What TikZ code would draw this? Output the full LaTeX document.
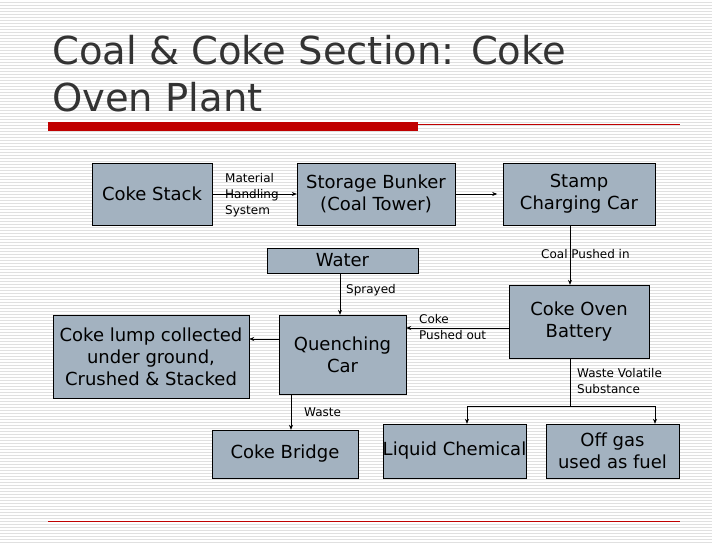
\documentclass[tikz,border=0pt]{standalone}
\usepackage{fontspec}
\setmainfont{DejaVu Sans}
\usetikzlibrary{positioning,arrows.meta,calc}
\definecolor{boxfill}{HTML}{A3B2C0}
\definecolor{titlered}{HTML}{C00000}
\begin{document}
\begin{tikzpicture}[x=1pt,y=-1pt,
    box/.style={draw=black,fill=boxfill,inner sep=0pt,align=center,font=\fontsize{18}{22}\selectfont},
    lbl/.style={font=\fontsize{12}{16}\selectfont,align=left,inner sep=1pt},
    arr/.style={-{Stealth[length=5pt,width=4pt]},line width=0.6pt}]
        % Background
        \fill[white] (0,0) rectangle (728,546);
        \useasboundingbox (0,0) rectangle (728,546);
        \foreach \y in {2,5,...,544} \draw[black!12,line width=0.5pt] (0,\y) -- (712,\y);
        \fill[white] (712,0) rectangle (728,546);
        \node[anchor=west,align=left,text=black!80,font=\fontsize{38.5}{47}\selectfont,inner sep=0pt] (title) at (52,74) {Coal \& Coke Section: Coke\\Oven Plant};
        \fill[titlered] (48,122) rectangle (418,131);
        \draw[titlered,line width=0.6pt] (418,124) -- (680,124);
        \draw[titlered,line width=0.6pt] (48,521) -- (680,521);

        % Nodes
        \node[box,minimum width=120,minimum height=62] (cokestack) at (152,194) {Coke Stack};
        \node[box,minimum width=158,minimum height=62] (bunker) at (376,194) {Storage Bunker\\(Coal Tower)};
        \node[box,minimum width=152,minimum height=62] (stamp) at (579,194) {Stamp\\Charging Car};
        \node[box,minimum width=151,minimum height=25] (water) at (342.5,260.5) {Water};
        \node[box,minimum width=140,minimum height=73] (battery) at (579,321.5) {Coke Oven\\Battery};
        \node[box,minimum width=127,minimum height=79] (quench) at (342.5,354.5) {Quenching\\Car};
        \node[box,minimum width=196,minimum height=83] (lump) at (151,356.5) {Coke lump collected\\under ground,\\Crushed \& Stacked};
        \node[box,minimum width=146,minimum height=48] (bridge) at (285,454) {Coke Bridge};
        \node[box,minimum width=133,minimum height=54] (liquid) at (454.5,451) {Liquid Chemical};
        \node[box,minimum width=133,minimum height=54] (offgas) at (612.5,451) {Off gas\\used as fuel};
        \coordinate (split) at (570,406);

        % Arrows
        \draw[arr] (cokestack) -- (bunker);
        \draw[arr] (bunker.east) -- ++(42,0);
        \draw[arr] (stamp.south -| 570,0) -- (battery.north -| 570,0);
        \draw[arr] (water.south -| 340,0) -- (quench.north -| 340,0);
        \draw[arr] (battery.west |- 0,328) -- (quench.east |- 0,328);
        \draw[arr] (quench.west |- 0,339) -- (lump.east |- 0,339);
        \draw[arr] (quench.south -| 291,0) -- (bridge.north -| 291,0);
        \draw[line width=0.6pt] (battery.south -| split) -- (split);
        \draw[arr] (split) -| (liquid.north -| 467,0);
        \draw[arr] (split) -| (offgas.north -| 655,0);

        % Labels
        \node[lbl,anchor=north west] (mhs) at (224,172) {Material\\Handling\\System};
        \node[lbl,anchor=west] (pushin) at (540,254) {Coal Pushed in};
        \node[lbl,anchor=west] (spray) at (345,290) {Sprayed};
        \node[lbl,anchor=north west] (pushout) at (418,313) {Coke\\Pushed out};
        \node[lbl,anchor=north west] (volatile) at (576,367) {Waste Volatile\\Substance};
        \node[lbl,anchor=west] (wastelbl) at (303,412) {Waste};
      \end{tikzpicture}
\end{document}
